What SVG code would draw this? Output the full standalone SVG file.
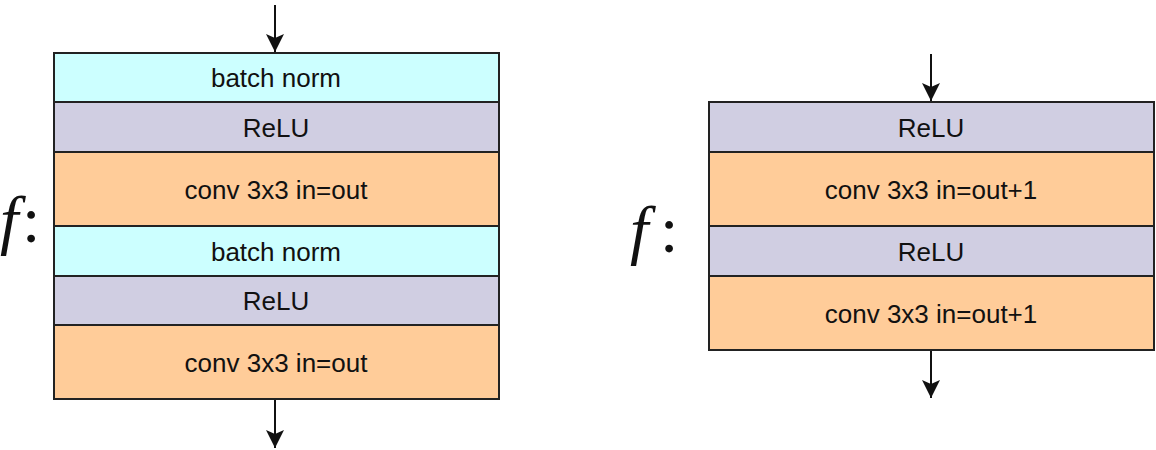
<svg xmlns="http://www.w3.org/2000/svg" width="1156" height="450" viewBox="0 0 1156 450">
<style>
rect{stroke:#222;stroke-width:2}
.bn{fill:#ccffff}.re{fill:#d0cee2}.cv{fill:#ffcc99}
text{font-family:"Liberation Sans",Arial,sans-serif;font-size:26px;fill:#111;text-anchor:middle;dominant-baseline:central}
.f{font-family:"Liberation Serif","Times New Roman",serif;font-style:italic;font-size:66px;text-anchor:start;dominant-baseline:auto}
line{stroke:#111;stroke-width:2}
</style>
<defs><marker id="ah" markerWidth="18" markerHeight="22" refX="18" refY="9" orient="auto" markerUnits="userSpaceOnUse"><path d="M0,0 L18,9 L0,18 L4,9 z" fill="#111"/></marker></defs>
<g id="left">
<rect class="bn" x="54" y="53" width="445" height="49"/><text x="276" y="78">batch norm</text>
<rect class="re" x="54" y="102" width="445" height="50"/><text x="276" y="128">ReLU</text>
<rect class="cv" x="54" y="152" width="445" height="74"/><text x="276" y="190">conv 3x3 in=out</text>
<rect class="bn" x="54" y="226" width="445" height="50"/><text x="276" y="252">batch norm</text>
<rect class="re" x="54" y="276" width="445" height="49"/><text x="276" y="301">ReLU</text>
<rect class="cv" x="54" y="325" width="445" height="74"/><text x="276" y="363">conv 3x3 in=out</text>
<text class="f" x="0" y="242">f</text><text class="f" x="22" y="242" style="font-style:normal">:</text>
</g>
<g id="right">
<rect class="re" x="709" y="102" width="445" height="50"/><text x="931" y="128">ReLU</text>
<rect class="cv" x="709" y="152" width="445" height="74"/><text x="931" y="190">conv 3x3 in=out+1</text>
<rect class="re" x="709" y="226" width="445" height="50"/><text x="931" y="252">ReLU</text>
<rect class="cv" x="709" y="276" width="445" height="74"/><text x="931" y="314">conv 3x3 in=out+1</text>
<text class="f" x="630" y="252">f</text><text class="f" x="660" y="252" style="font-style:normal">:</text>
</g>
<g id="connectors">
<line x1="275" y1="5" x2="275" y2="52" marker-end="url(#ah)"/>
<line x1="275" y1="400" x2="275" y2="448" marker-end="url(#ah)"/>
<line x1="931" y1="54" x2="931" y2="101" marker-end="url(#ah)"/>
<line x1="931" y1="351" x2="931" y2="398" marker-end="url(#ah)"/>
</g>
</svg>
